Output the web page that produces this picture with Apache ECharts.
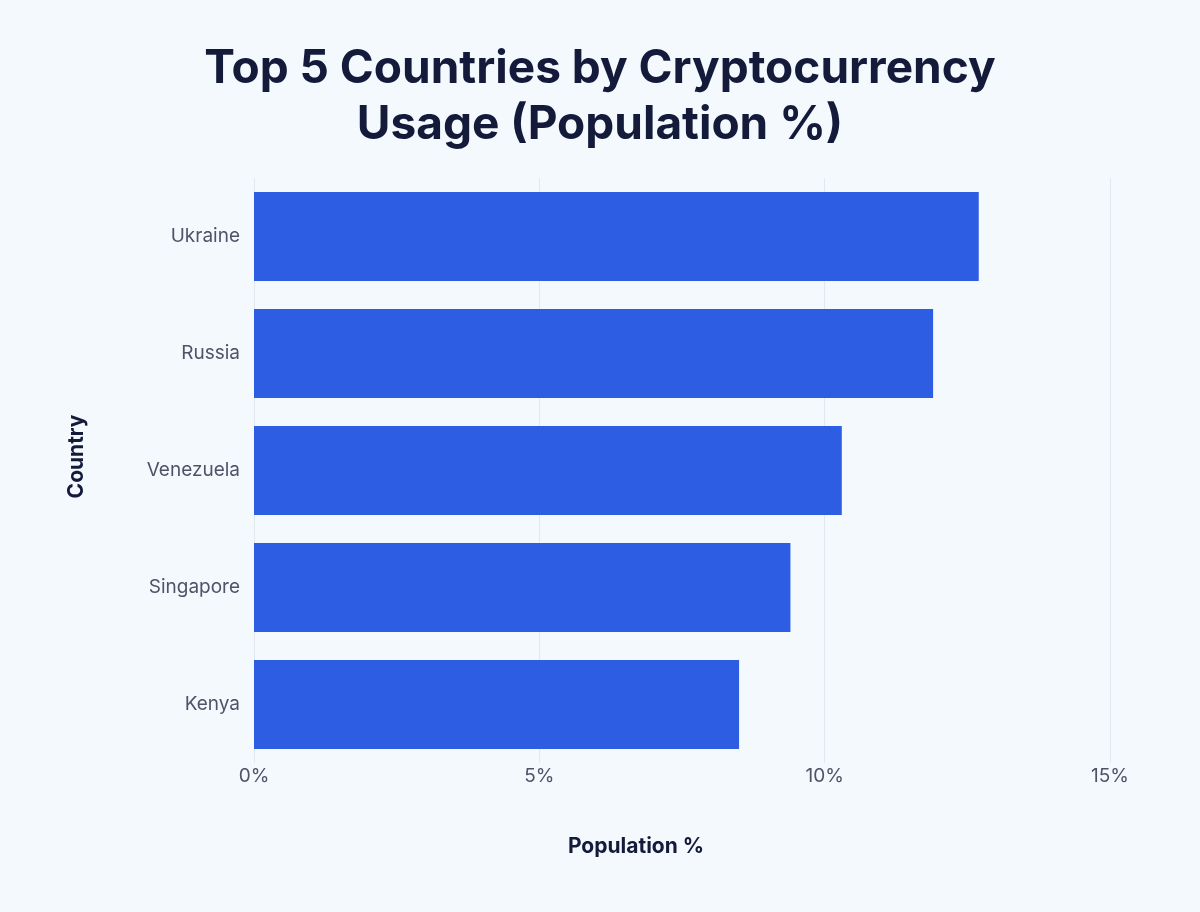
<!DOCTYPE html>
<html><head><meta charset="utf-8">
<script src="https://cdn.jsdelivr.net/npm/echarts@6/dist/echarts.min.js"></script>
<style>html,body{margin:0;padding:0;background:#f4f9fe;}#c{width:1200px;height:912px;}</style>
</head><body><div id="c"></div>
<script>
const countries = ['Ukraine','Russia','Venezuela','Singapore','Kenya'];
const usage = [12.7, 11.9, 10.3, 9.4, 8.5];
const tickValues = [0, 5, 10, 15];

const chart = echarts.init(document.getElementById('c'));
chart.setOption({
  backgroundColor: '#f4f9fe',
  animation: false,
  title: {
    text: 'Top 5 Countries by Cryptocurrency\nUsage (Population %)',
    left: 'center', top: 36,
    textStyle: {fontFamily: 'Inter', fontWeight: 700, fontSize: 46, lineHeight: 56, color: '#131a3a'}
  },
  grid: {left: 254, right: 90, top: 178, bottom: 149},
  xAxis: {
    type: 'value', min: 0, max: 15, interval: 5,
    axisLine: {show: false}, axisTick: {show: false},
    splitLine: {lineStyle: {color: '#e3e8f0', width: 1}},
    axisLabel: {formatter: v => v + '%', color: '#4d5468', fontFamily: 'Inter', fontSize: 19, margin: 4},
    name: 'Population %', nameLocation: 'middle', nameGap: 73,
    nameTextStyle: {fontFamily: 'Inter', fontWeight: 700, fontSize: 21, color: '#131a3a', padding: [0, 92, 0, 0]}
  },
  yAxis: {
    type: 'category', data: countries, inverse: true,
    axisLine: {show: false}, axisTick: {show: false},
    axisLabel: {color: '#4d5468', fontFamily: 'Inter', fontSize: 19, margin: 14, padding: [4, 0, 0, 0]},
    name: 'Country', nameLocation: 'middle', nameGap: 167, nameRotate: 90,
    nameTextStyle: {fontFamily: 'Inter', fontWeight: 700, fontSize: 21, color: '#131a3a', padding: [0, 0, 0, 28]}
  },
  series: [{
    type: 'bar', data: usage, barCategoryGap: '24%',
    itemStyle: {color: '#2d5de3'}
  }]
});
</script></body></html>
